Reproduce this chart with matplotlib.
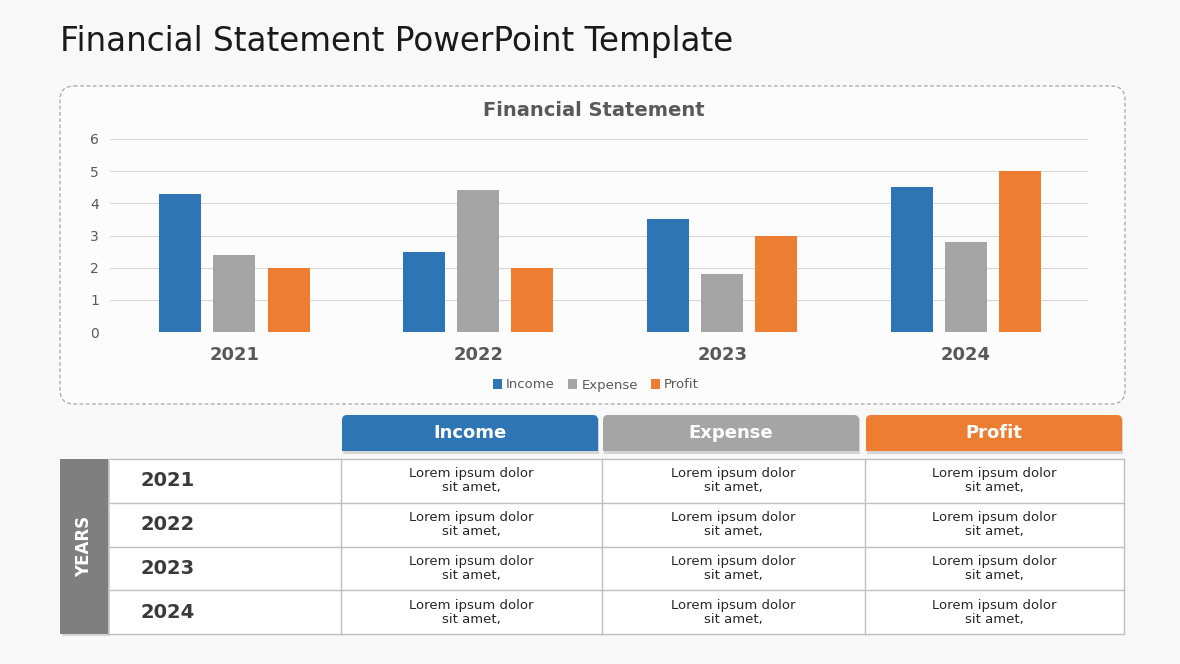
import matplotlib.pyplot as plt
from matplotlib.patches import FancyBboxPatch, Rectangle
import numpy as np

years = ["2021", "2022", "2023", "2024"]
series = ["Income", "Expense", "Profit"]
income = [4.3, 2.5, 3.5, 4.5]
expense = [2.4, 4.4, 1.8, 2.8]
profit = [2.0, 2.0, 3.0, 5.0]
colors = ["#2E75B6", "#A5A5A5", "#ED7D31"]
y_ticks = [0, 1, 2, 3, 4, 5, 6]
cell_text = "Lorem ipsum dolor\nsit amet,"

fig = plt.figure(figsize=(11.8, 6.64), dpi=100)
fig.patch.set_facecolor("#F8F8F8")

# overlay in pixel coordinates for the slide decoration and the table
bg = fig.add_axes([0, 0, 1, 1])
bg.set_xlim(0, 1180)
bg.set_ylim(664, 0)
bg.axis("off")

bg.text(60, 42, "Financial Statement PowerPoint Template", fontsize=23.5,
        family="DejaVu Sans", color="#1A1A1A", va="center", ha="left")

# dashed box around the chart
bg.add_patch(FancyBboxPatch((60, 86), 1065, 318, boxstyle="round,pad=0,rounding_size=14",
                            fc="#FCFCFC", ec="#A6A6A6", lw=0.9, ls=(0, (3, 2))))
bg.text(594, 111, "Financial Statement", fontsize=14, fontweight="bold",
        color="#595959", ha="center", va="center")

# header boxes
col_left = [342, 603, 866]
col_w = 256
for i, name in enumerate(series):
    x = col_left[i]
    bg.add_patch(Rectangle((x + 1, 418), col_w, 36, fc="#BFBFBF", ec="none", alpha=0.6))
    bg.add_patch(FancyBboxPatch((x, 415), col_w, 36, boxstyle="round,pad=0,rounding_size=5",
                                fc=colors[i], ec="none"))
    bg.add_patch(Rectangle((x, 433), col_w, 18, fc=colors[i], ec="none"))
    bg.text(x + col_w / 2, 433, name, fontsize=13, fontweight="bold", color="white",
            ha="center", va="center")

# table body
top = 459
row_h = 43.75
grid_x = [108, 341, 602, 865, 1124]
bg.add_patch(Rectangle((108, top), 1016, row_h * 4, fc="white", ec="#BFBFBF", lw=1))
for r in range(1, 4):
    bg.plot([108, 1124], [top + r * row_h] * 2, color="#BFBFBF", lw=1)
for x in grid_x[1:-1]:
    bg.plot([x, x], [top, top + 4 * row_h], color="#BFBFBF", lw=1)

# YEARS side bar
bg.add_patch(Rectangle((62, top + 2), 48, row_h * 4, fc="#BFBFBF", ec="none", alpha=0.6))
bg.add_patch(Rectangle((60, top), 48, row_h * 4, fc="#7F7F7F", ec="none"))
bg.text(84, top + 2 * row_h, "YEARS", rotation=90, fontsize=12, fontweight="bold",
        color="white", ha="center", va="center")

for r, yr in enumerate(years):
    yc = top + (r + 0.5) * row_h
    bg.text(140, yc, yr, fontsize=14, fontweight="bold", color="#3A3A3A",
            ha="left", va="center")
    for c in range(3):
        xc = (grid_x[c + 1] + grid_x[c + 2]) / 2
        bg.text(xc, yc, cell_text, fontsize=9.5, color="#262626", ha="center",
                va="center", linespacing=1.1)

# bar chart
ax = fig.add_axes([110 / 1180, 1 - 332 / 664, 978 / 1180, 193 / 664])
ax.set_facecolor("none")
x = np.arange(len(years))
step = 0.222
w = 0.172
for i, (vals, name) in enumerate(zip([income, expense, profit], series)):
    ax.bar(x + (i - 1) * step, vals, width=w, color=colors[i], label=name, zorder=3)

ax.set_xlim(-0.51, 3.5)
ax.set_ylim(0, 6)
ax.set_yticks(y_ticks)
ax.grid(axis="y", color="#D9D9D9", lw=0.8, zorder=0)
for s in ax.spines.values():
    s.set_visible(False)
ax.tick_params(length=0)
ax.tick_params(axis="y", labelsize=10, labelcolor="#595959", pad=8)
ax.set_xticks(x)
ax.set_xticklabels(years, fontsize=13, fontweight="bold", color="#595959")
ax.tick_params(axis="x", pad=10)

fig.legend(loc="center", bbox_to_anchor=(596 / 1180, 1 - 385 / 664), ncol=3,
           frameon=False, fontsize=9.5, labelcolor="#595959", handlelength=0.7,
           handleheight=0.7, handletextpad=0.3, columnspacing=1.0)

plt.savefig("out.png", dpi=100, facecolor=fig.get_facecolor())
